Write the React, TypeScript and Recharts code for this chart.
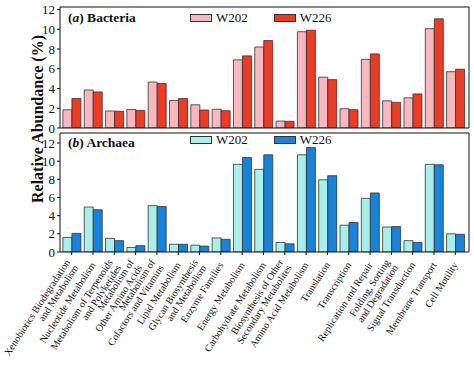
import React from 'react';
import { BarChart, Bar, XAxis, YAxis, Legend } from 'recharts';

const categories = [
  'Xenobiotics Biodegradation\nand Metabolism',
  'Nucleotide Metabolism',
  'Metabolism of Terpenoids\nand Polyketides',
  'Metabolism of\nOther Amino Acids',
  'Metabolism of\nCofactors and Vitamins',
  'Lipid Metabolism',
  'Glycan Biosynthesis\nand Metabolism',
  'Enzyme Families',
  'Energy Metabolism',
  'Carbohydrate Metabolism',
  'Biosynthesis of Other\nSecondary Metabolites',
  'Amino Acid Metabolism',
  'Translation',
  'Transcription',
  'Replication and Repair',
  'Folding, Sorting\nand Degradation',
  'Signal Transduction',
  'Membrane Transport',
  'Cell Motility',
];

const seriesNames = ['W202', 'W226'];

const bacteriaW202 = [1.85, 3.85, 1.72, 1.87, 4.65, 2.78, 2.35, 1.9, 6.9, 8.2, 0.7, 9.75, 5.15, 1.95, 6.95, 2.75, 3.05, 10.05, 5.7];
const bacteriaW226 = [2.98, 3.65, 1.7, 1.78, 4.5, 2.98, 1.82, 1.75, 7.3, 8.85, 0.68, 9.9, 4.9, 1.85, 7.5, 2.6, 3.45, 11.05, 5.95];

const archaeaW202 = [1.6, 4.95, 1.5, 0.5, 5.1, 0.85, 0.75, 1.55, 9.65, 9.1, 1.05, 10.7, 7.95, 2.95, 5.9, 2.75, 1.25, 9.65, 2.0];
const archaeaW226 = [2.05, 4.65, 1.25, 0.7, 5.0, 0.85, 0.65, 1.4, 10.4, 10.7, 0.9, 11.5, 8.4, 3.25, 6.5, 2.8, 1.05, 9.6, 1.95];

const yTicks = [0, 2, 4, 6, 8, 10, 12];

const SERIF = '"Liberation Serif", "Times New Roman", Times, serif';

const bacteriaData = categories.map((name, i) => ({ name, w202: bacteriaW202[i], w226: bacteriaW226[i] }));
const archaeaData = categories.map((name, i) => ({ name, w202: archaeaW202[i], w226: archaeaW226[i] }));

const CategoryTick = (props: any) => {
  const { x, y, payload } = props;
  const lines = String(payload.value).split('\n');
  const lh = 10;
  return (
    <g transform={`translate(${x},${y}) rotate(-57)`}>
      <text textAnchor="end" fontFamily={SERIF} fontSize={10} fill="#111">
        {lines.map((l, i) => (
          <tspan key={i} x={0} y={(i - (lines.length - 1) / 2) * lh} dy="0.35em">
            {l}
          </tspan>
        ))}
      </text>
    </g>
  );
};

const LegendContent = (props: any) => {
  const { payload } = props;
  return (
    <div style={{ display: 'flex', alignItems: 'center', fontFamily: SERIF, fontSize: 13, color: '#111', lineHeight: '15px' }}>
      {(payload || []).map((p: any, i: number) => (
        <div key={i} style={{ display: 'flex', alignItems: 'center', marginRight: i === 0 ? 26 : 0 }}>
          <span
            style={{
              display: 'inline-block',
              width: 22,
              height: 8,
              background: p.color,
              border: '1px solid #333',
              boxSizing: 'border-box',
              marginRight: 4,
            }}
          />
          <span>{p.value}</span>
        </div>
      ))}
    </div>
  );
};

const axisStroke = '#111';
const tickStyle = { fontFamily: SERIF, fontSize: 13, fill: '#111' };

function Panel(props: {
  data: any[];
  top: number;
  bottom: number;
  yMax: number;
  c1: string;
  c2: string;
  legendTop: number;
  showLabels: boolean;
}) {
  const { data, top, bottom, yMax, c1, c2, legendTop, showLabels } = props;
  return (
    <div style={{ position: 'absolute', left: 0, top: 0 }}>
      <BarChart
        width={474}
        height={368}
        data={data}
        margin={{ top, right: 5, bottom: showLabels ? 0 : 368 - bottom, left: 0 }}
        barCategoryGap="9%"
        barGap={0}
      >
        {showLabels ? (
          <XAxis
            dataKey="name"
            type="category"
            interval={0}
            height={368 - bottom}
            padding={{ left: 1, right: 3 }}
            axisLine={{ stroke: axisStroke }}
            tickLine={{ stroke: axisStroke }}
            tickSize={3}
            tickMargin={8}
            tick={<CategoryTick />}
          />
        ) : (
          <XAxis
            dataKey="name"
            type="category"
            interval={0}
            mirror
            padding={{ left: 1, right: 3 }}
            axisLine={{ stroke: axisStroke }}
            tickLine={{ stroke: axisStroke }}
            tickSize={3}
            tick={false}
          />
        )}
        <XAxis
          xAxisId="frame"
          orientation="top"
          type="number"
          domain={[0, 1]}
          ticks={[0, 1]}
          mirror
          tick={false}
          tickLine={false}
          axisLine={{ stroke: axisStroke }}
        />
        <YAxis
          width={60}
          domain={[0, yMax]}
          ticks={yTicks}
          interval={0}
          allowDataOverflow
          axisLine={{ stroke: axisStroke }}
          tickLine={{ stroke: axisStroke }}
          tickSize={3}
          tickMargin={2}
          tick={tickStyle}
        />
        <YAxis
          yAxisId="frame"
          orientation="right"
          type="number"
          domain={[0, 1]}
          ticks={[0, 1]}
          mirror
          tick={false}
          tickLine={false}
          axisLine={{ stroke: axisStroke }}
        />
        <Legend
          layout="horizontal"
          verticalAlign="middle"
          align="center"
          wrapperStyle={{ left: 190, top: legendTop, width: 200 }}
          content={<LegendContent />}
        />
        <Bar dataKey="w202" name={seriesNames[0]} fill={c1} stroke="#333" strokeWidth={0.8} isAnimationActive={false} />
        <Bar dataKey="w226" name={seriesNames[1]} fill={c2} stroke="#333" strokeWidth={0.8} isAnimationActive={false} />
      </BarChart>
    </div>
  );
}

export default function App() {
  return (
    <div style={{ position: 'absolute', left: 0, top: 0, width: 474, height: 368, background: '#fff', overflow: 'hidden' }}>
      <Panel data={bacteriaData} top={7} bottom={128} yMax={12.25} c1="#f9b7c0" c2="#ee3b22" legendTop={10} showLabels={false} />
      <Panel data={archaeaData} top={133} bottom={252} yMax={13.1} c1="#a9f0ea" c2="#1683dd" legendTop={132} showLabels={true} />
      <svg width={474} height={368} style={{ position: 'absolute', left: 0, top: 0, pointerEvents: 'none' }}>
        <text x={68} y={22} fontFamily={SERIF} fontSize={13.5} fontWeight="bold" fill="#111">
          (<tspan fontStyle="italic">a</tspan>) Bacteria
        </text>
        <text x={68} y={147} fontFamily={SERIF} fontSize={13.5} fontWeight="bold" fill="#111">
          (<tspan fontStyle="italic">b</tspan>) Archaea
        </text>
        <text
          x={0}
          y={0}
          transform="translate(43,119) rotate(-90)"
          textAnchor="middle"
          fontFamily={SERIF}
          fontSize={16}
          fontWeight="bold"
          fill="#111"
        >
          Relative Abundance (%)
        </text>
      </svg>
    </div>
  );
}
